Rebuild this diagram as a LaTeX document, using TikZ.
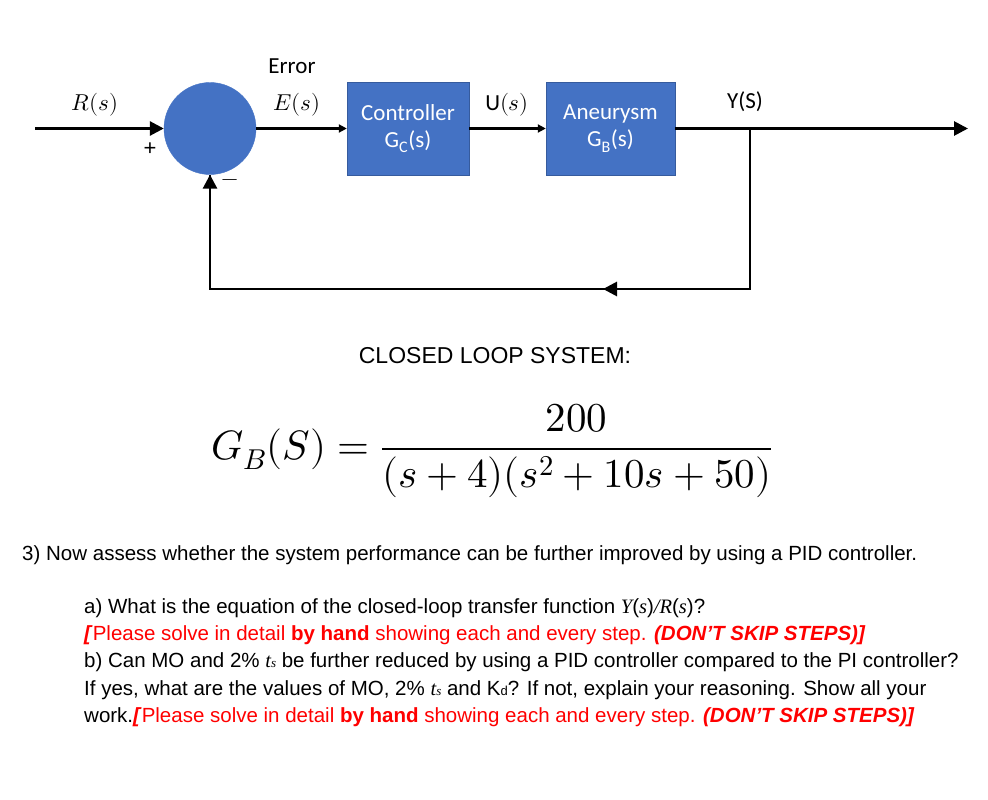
\documentclass[tikz,border=0pt]{standalone}
\usepackage{fontspec}
\usepackage{unicode-math}
\setmainfont{Liberation Sans}
\setmathfont{Latin Modern Math}
\newfontfamily\calibri{Carlito}
\newfontfamily\tnr{Liberation Serif}
\usetikzlibrary{arrows.meta}
\definecolor{officeblue}{HTML}{4472C4}
\definecolor{qred}{HTML}{FF0000}
\tikzset{
  blk/.style={fill=officeblue,draw=officeblue!80!black,line width=0.4pt,minimum width=122pt,minimum height=93pt,inner sep=0pt,align=center,text=white,font=\calibri\fontsize{23}{27}\selectfont},
  sumnode/.style={circle,fill=officeblue,draw=officeblue,minimum size=92pt,inner sep=0pt},
  sig/.style={line width=2.8pt},
  bigarrow/.style={-{Triangle[length=14pt,width=14pt]}},
  smallarrow/.style={-{Triangle[length=8pt,width=8pt]}},
  lbl/.style={font=\calibri\fontsize{23}{27}\selectfont,inner sep=0pt},
  mlbl/.style={font=\fontsize{23}{27}\selectfont,inner sep=0pt},
  qline/.style={anchor=base west,inner sep=0pt,font=\fontsize{20.5}{24}\selectfont},
}
\newcommand{\ts}{{\tnr\itshape t{\fontsize{13}{13}\selectfont s}}}
\newcommand{\Kd}{K{\fontsize{13}{13}\selectfont d}}
\begin{document}
\begin{tikzpicture}[x=1pt,y=-1pt]
\useasboundingbox (0,0) rectangle (988,800);
% blocks
\node[sumnode] (sum) at (210,128.5) {};
\node[blk] (ctrl) at (408,128.5) {Controller\\G\textsubscript{C}(s)};
\node[blk,minimum width=129pt] (plant) at (610.5,128.5) {Aneurysm\\G\textsubscript{B}(s)};
\coordinate (in) at (35,128.5);
\coordinate (out) at (968,128.5);
\coordinate (br) at (750,128.5);
\coordinate (fbr) at (750,289);
\coordinate (fbl) at (210,289);
\coordinate (fbmid) at (603,289);
% connectors
\draw[sig,bigarrow] (in) -- (sum.west);
\draw[line width=2.2pt,smallarrow] (sum.east) -- (ctrl.west);
\draw[line width=2.2pt,smallarrow] (ctrl.east) -- (plant.west);
\draw[sig,bigarrow] (plant.east) -- (out);
\draw[sig,line join=miter] (br) -- (fbr) -- (fbl) -- (sum.south);
\draw[sig,bigarrow] (fbr) -- (fbmid);
\draw[sig,bigarrow] (fbl) -- (sum.south);
% labels
\node[mlbl] (rl) at (95,105) {$R(s)$};
\node[lbl] (errl) at (292,66) {Error};
\node[mlbl] (el) at (297,105) {$E(s)$};
\node[lbl] (ul) at (507,105) {U$(s)$};
\node[lbl] (yl) at (745,102) {Y(S)};
\node[inner sep=0pt,font=\fontsize{22}{22}\selectfont] (plus) at (150,149) {+};
\node[inner sep=0pt,font=\fontsize{22}{22}\selectfont] (minus) at (230,183) {$-$};
% formula
\node[inner sep=0pt,font=\fontsize{23}{27}\selectfont] (cls) at (495,356) {CLOSED LOOP SYSTEM:};
\node[inner sep=0pt,font=\fontsize{41}{48}\selectfont] (eq) at (492,451) {$\displaystyle G_B(S)=\frac{200}{(s+4)(s^2+10s+50)}$};
% text
\node[inner sep=0pt,anchor=base west] (q3) at (22,560) {\resizebox{895pt}{!}{\fontsize{20}{24}\selectfont 3) Now assess whether the system performance can be further improved by using a PID controller.}};
\node[qline] (qa) at (84,613) {a) What is the equation of the closed-loop transfer function {\tnr\itshape Y}({\tnr\itshape s}){\tnr\itshape /R}({\tnr\itshape s})?};
\node[qline,text=qred] (qa2) at (84,640) {\textbf{\textit{[}}Please solve in detail \textbf{by hand} showing each and every step. \textbf{\textit{(DON'T SKIP STEPS)]}}};
\node[qline] (qb) at (84,667) {b) Can MO and 2\% \ts\ be further reduced by using a PID controller compared to the PI controller?};
\node[qline] (qb2) at (84,695) {If yes, what are the values of MO, 2\% \ts\ and \Kd? If not, explain your reasoning. Show all your};
\node[qline] (qb3) at (84,722) {work.\textcolor{qred}{\textbf{\textit{[}}Please solve in detail \textbf{by hand} showing each and every step. \textbf{\textit{(DON'T SKIP STEPS)]}}}};
\end{tikzpicture}
\end{document}
